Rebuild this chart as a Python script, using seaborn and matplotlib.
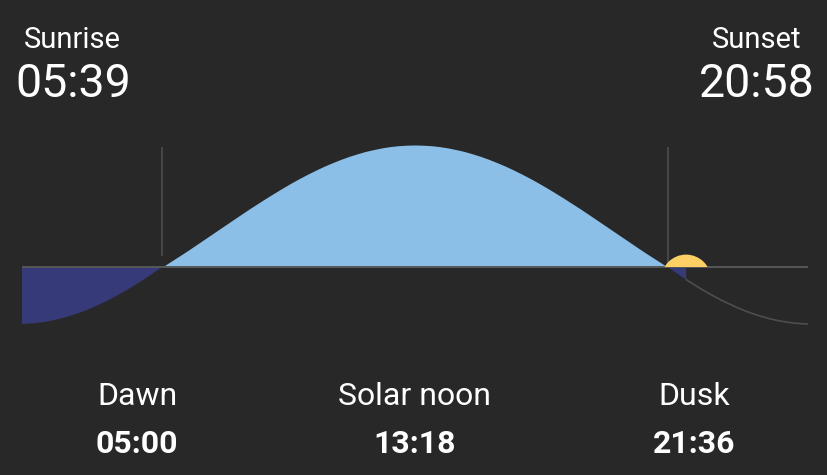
import numpy as np
import pandas as pd
import seaborn as sns
import matplotlib.pyplot as plt
from matplotlib.patches import Rectangle

# time of day in hours (quarter-hour grid, solar midnight to solar midnight)
hours = np.linspace(1.3, 25.3, 97)
# sun height above the horizon (arbitrary units)
elevation = [
    -57.0, -56.8, -56.2, -55.1, -53.7, -51.8, -49.5, -46.9, -43.9, -40.5,
    -36.7, -32.7, -28.3, -23.6, -18.6, -13.4, -8.0, -2.3, 3.1, 8.4,
    13.7, 19.2, 24.8, 30.4, 36.0, 41.6, 47.2, 52.8, 58.3, 63.6,
    68.9, 74.0, 79.0, 83.8, 88.4, 92.7, 96.8, 100.7, 104.2, 107.5,
    110.5, 113.1, 115.5, 117.4, 119.1, 120.4, 121.3, 121.8, 122.0,
    121.8, 121.3, 120.4, 119.1, 117.4, 115.5, 113.1, 110.5, 107.5, 104.2,
    100.7, 96.8, 92.7, 88.4, 83.8, 79.0, 74.0, 68.9, 63.6, 58.3,
    52.8, 47.2, 41.6, 36.0, 30.4, 24.8, 19.2, 13.7, 8.4, 3.1,
    -2.3, -8.0, -13.4, -18.6, -23.6, -28.3, -32.7, -36.7, -40.5, -43.9,
    -46.9, -49.5, -51.8, -53.7, -55.1, -56.2, -56.8, -57.0,
]

sunrise_h = 5.65
sunset_h = 20.97
now_h = 21.51
now_elev = -12.6

top_labels = ["Sunrise", "Sunset"]
top_times = ["05:39", "20:58"]
bottom_labels = ["Dawn", "Solar noon", "Dusk"]
bottom_times = ["05:00", "13:18", "21:36"]

bg = "#282828"
day_col = "#8bbfe7"
night_col = "#363a78"
sun_col = "#fdd066"
line_col = "#4e4e4e"

sns.set_style("dark", {"axes.facecolor": bg, "figure.facecolor": bg})
plt.rcParams["font.family"] = ["Roboto", "DejaVu Sans"]

df = pd.DataFrame({"hour": hours, "elev": elevation})

fig = plt.figure(figsize=(8.28, 4.75), dpi=100)
W, H = 828, 475
ax = fig.add_axes([22 / W, (H - 340) / H, 786 / W, 210 / H])
ax.set_xlim(1.41, 25.2)
ax.set_ylim(-73, 137)

# part of the day already passed
past = df[df["hour"] <= now_h]
past = pd.concat([past, pd.DataFrame({"hour": [now_h], "elev": [now_elev]})])
pt = past["hour"].to_numpy()
pe = past["elev"].to_numpy()
ax.fill_between(pt, pe, 0, where=pe >= 0, interpolate=True, color=day_col, lw=0, zorder=2)
ax.fill_between(pt, pe, 0, where=pe <= 0, interpolate=True, color=night_col, lw=0, zorder=2)

# part still to come
future = pd.concat([pd.DataFrame({"hour": [now_h], "elev": [now_elev]}),
                    df[df["hour"] >= now_h]])
sns.lineplot(data=future, x="hour", y="elev", ax=ax, color=line_col, lw=1.2, zorder=3)

# horizon and sunrise / sunset markers
ax.axhline(0, color="#575757", lw=1.4, zorder=4)
ax.vlines(sunrise_h, 11, 120, color=line_col, lw=1.2, zorder=1)
ax.vlines(sunset_h, 0, 120, color=line_col, lw=1.2, zorder=1)

# the sun, only the part above the horizon
sns.scatterplot(x=[now_h], y=[now_elev], ax=ax, s=1296, color=sun_col,
                edgecolor="none", zorder=5, legend=False)
clip = Rectangle((0, 0), 30, 300, transform=ax.transData)
ax.collections[-1].set_clip_path(clip)
ax.set_xlim(1.41, 25.2)
ax.set_ylim(-73, 137)
ax.set_axis_off()

# header texts
fig.text(24 / W, (H - 48) / H, top_labels[0], color="white", fontsize=21, ha="left", va="baseline")
fig.text(15 / W, (H - 97) / H, top_times[0], color="white", fontsize=33.5, ha="left", va="baseline")
fig.text(802 / W, (H - 48) / H, top_labels[1], color="white", fontsize=21, ha="right", va="baseline")
fig.text(815 / W, (H - 97) / H, top_times[1], color="white", fontsize=33.5, ha="right", va="baseline")

# footer texts
centers = [137, 415, 694]
for cx, lab, tm in zip(centers, bottom_labels, bottom_times):
    fig.text(cx / W, (H - 405) / H, lab, color="white", fontsize=23, ha="center", va="baseline")
    fig.text(cx / W, (H - 453) / H, tm, color="white", fontsize=23, fontweight="bold",
             ha="center", va="baseline")

fig.savefig("out.png", dpi=100, facecolor=bg)
